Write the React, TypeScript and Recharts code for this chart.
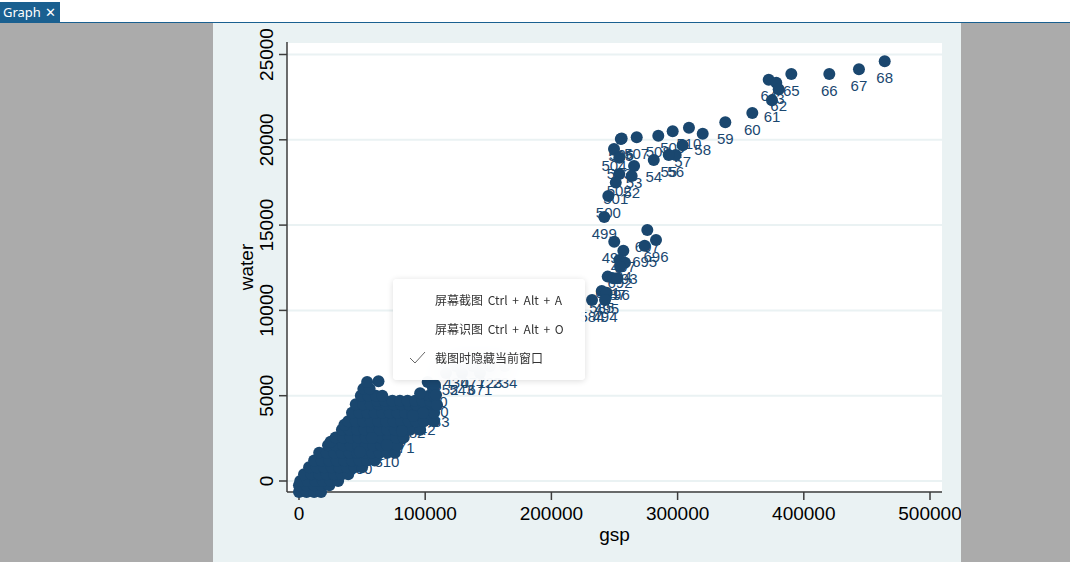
import React from 'react';
import { ScatterChart, Scatter, XAxis, YAxis, CartesianGrid, LabelList } from 'recharts';

const NAVY = '#1a476f';
const PANEL = '#eaf2f3';
const AXIS = '#3c3c3c';

const xTicks = [0, 100000, 200000, 300000, 400000, 500000];
const yTicks = [0, 5000, 10000, 15000, 20000, 25000];

// labelled points, readable in the upper part of the plot
const ids = [
  '68', '67', '66', '65', '64', '63', '62', '61', '60', '59', '58', '57', '56', '55', '54', '53', '52',
  '510', '509', '508', '507', '506', '505', '504', '503', '502', '501', '500', '499', '498', '497',
  '697', '696', '695', '694', '693', '692', '691', '687', '496', '585', '495', '494', '584',
  '433', '350', '300', '442', '382', '371', '310', '190', '251',
  '234', '723', '071', '434', '671', '543', '252',
];
const idGsp = [
  464100, 443700, 420200, 390100, 372200, 378200, 380100, 374800, 359200, 337800, 319900, 304000, 298500, 293000, 281100, 265500, 263600,
  309000, 296100, 284700, 267600, 255700, 255000, 249600, 253800, 253800, 251000, 245100, 241900, 249800, 257000,
  276000, 282900, 273900, 253800, 258300, 254400, 244600, 249000, 252200, 239900, 243800, 242500, 232200,
  109400, 107800, 108600, 98300, 90300, 81600, 69700, 48300, 57800,
  163200, 151300, 137900, 124400, 143400, 129200, 116500,
];
const idWater = [
  24600, 24130, 23860, 23860, 23520, 23350, 22960, 22320, 21570, 21030, 20360, 19680, 19110, 19110, 18820, 18460, 17880,
  20710, 20500, 20240, 20150, 20070, 20050, 19460, 18950, 18000, 17490, 16710, 15480, 14030, 13500,
  14710, 14130, 13790, 12960, 12800, 12560, 11980, 11880, 11880, 11140, 11040, 10610, 10610,
  4460, 5630, 5040, 3990, 3810, 2930, 2110, 1700, 2520,
  6740, 6740, 6740, 6740, 6330, 6330, 6330,
];

// the dense lower-left mass, too crowded to label: one row of gsp values per water level
const massWater = [-640, -250, 0, 400, 800, 1200, 1650, 2100, 2300, 2550, 3000, 3300, 3500, 4000, 4500, 4700, 5000, 5150, 5400, 5500, 5800, 5850];
const massGsp = [
  [0, 6000, 12000, 17500],
  [0, 6000, 12000, 18000, 24000],
  [1000, 7000, 13000, 19000, 25000, 31000],
  [4000, 10000, 16000, 22000, 28000, 34000, 39000],
  [8000, 14000, 20000, 26000, 32000, 38000, 44000, 50000],
  [12000, 18000, 24000, 30000, 36000, 42000, 48000, 54000, 60000],
  [16000, 22000, 28000, 34000, 40000, 46000, 52000, 58000, 64000, 70000, 76000],
  [23000, 29000, 35000, 41000, 47000, 53000, 59000, 65000, 71000, 78000],
  [25000],
  [29000, 35000, 41000, 47000, 53000, 59000, 65000, 71000, 77000, 83000],
  [34000, 40000, 46000, 52000, 58000, 64000, 70000, 76000, 82000, 88000, 96000],
  [36000],
  [39000, 45000, 51000, 57000, 63000, 69000, 75000, 81000, 87000, 93000, 99000, 107000],
  [42000, 48000, 54000, 60000, 66000, 72000, 78000, 84000, 90000, 96000, 102000, 107000],
  [45000, 51000, 57000, 63000, 69000, 75000, 81000, 87000, 93000, 99000, 105000, 108000],
  [62000, 68000, 74000, 80000, 86000, 92000, 98000, 104000],
  [49000, 55000, 61000, 66000, 103000, 107000],
  [96000],
  [51000, 56000],
  [106000],
  [54000, 102000],
  [63000],
];

const labelled = ids.map((id, i) => ({ id, gsp: idGsp[i], water: idWater[i] }));
const mass = massWater.flatMap((water, i) => massGsp[i].map((gsp) => ({ gsp, water })));

const Dot = (props: any) => <circle cx={props.cx} cy={props.cy} r={6} fill={NAVY} />;

const YTick = ({ x, y, payload }: any) => (
  <text
    x={x - 4}
    y={y}
    transform={`rotate(-90 ${x - 4} ${y})`}
    textAnchor="middle"
    fontFamily="Liberation Sans"
    fontSize={19}
    fill="#000"
  >
    {payload.value}
  </text>
);

const YTitle = ({ viewBox }: any) => {
  const x = viewBox.x + 40;
  const y = viewBox.y + viewBox.height / 2;
  return (
    <text x={x} y={y} transform={`rotate(-90 ${x} ${y})`} textAnchor="middle" fontFamily="Liberation Sans" fontSize={19} fill="#000">
      water
    </text>
  );
};

const menuItems = ['屏幕截图 Ctrl + Alt + A', '屏幕识图 Ctrl + Alt + O', '截图时隐藏当前窗口'];

export default function App() {
  return (
    <div style={{ position: 'absolute', left: 0, top: 0, width: 1070, height: 562, background: '#fff', overflow: 'hidden' }}>
      <div style={{ position: 'absolute', left: 0, top: 23, width: 1070, height: 539, background: '#ababab' }} />
      <div style={{ position: 'absolute', left: 0, top: 22, width: 1070, height: 1, background: '#1a6090' }} />
      <div
        style={{
          position: 'absolute', left: 0, top: 2, width: 60, height: 20, background: '#1a6090', color: '#fff',
          fontFamily: 'Noto Sans', fontSize: 13, lineHeight: '20px', paddingLeft: 3, boxSizing: 'border-box',
        }}
      >
        Graph
        <span style={{ position: 'absolute', left: 45, top: 0 }}>✕</span>
      </div>
      <div style={{ position: 'absolute', left: 213, top: 23, width: 748, height: 539, background: PANEL }}>
        <ScatterChart width={748} height={539} margin={{ top: 19, right: 19, bottom: 0, left: 0 }}>
          <CartesianGrid horizontal vertical={false} fill="#fff" stroke={PANEL} strokeWidth={2} />
          <XAxis
            type="number"
            dataKey="gsp"
            domain={[-9500, 509500]}
            ticks={xTicks}
            height={70}
            interval={0}
            stroke={AXIS}
            strokeWidth={1.5}
            tickSize={8}
            tickMargin={7}
            tick={{ fontFamily: 'Liberation Sans', fontSize: 19, fill: '#000' }}
            label={{ value: 'gsp', position: 'insideBottom', offset: 21, fontFamily: 'Liberation Sans', fontSize: 19, fill: '#000' }}
          />
          <YAxis
            type="number"
            dataKey="water"
            domain={[-645, 25733]}
            ticks={yTicks}
            width={74}
            interval={0}
            stroke={AXIS}
            strokeWidth={1.5}
            tickSize={8}
            tick={<YTick />}
            label={<YTitle />}
          />
          <Scatter data={mass} shape={<Dot />} isAnimationActive={false} />
          <Scatter data={labelled} shape={<Dot />} isAnimationActive={false}>
            <LabelList
              dataKey="id"
              position="bottom"
              offset={6.5}
              fill={NAVY}
              stroke="none"
              fontFamily="Liberation Sans"
              fontSize={15}
            />
          </Scatter>
        </ScatterChart>
      </div>
      <div
        style={{
          position: 'absolute', left: 393, top: 279, width: 192, height: 101, borderRadius: 4,
          background: 'rgba(255,255,255,0.94)', backdropFilter: 'blur(12px)', boxShadow: '0 1px 6px rgba(0,0,0,0.14)',
          fontFamily: 'Noto Sans CJK SC', fontSize: 12, color: '#333',
        }}
      >
        {menuItems.map((item, i) => (
          <div key={item} style={{ position: 'absolute', left: 42, top: 12 + i * 29, lineHeight: '18px', whiteSpace: 'nowrap', wordSpacing: 2 }}>
            {item}
          </div>
        ))}
        <svg width={20} height={16} style={{ position: 'absolute', left: 15, top: 71 }}>
          <polyline points="2,8 7,13 17,2" fill="none" stroke="#666" strokeWidth={1} />
        </svg>
      </div>
    </div>
  );
}
